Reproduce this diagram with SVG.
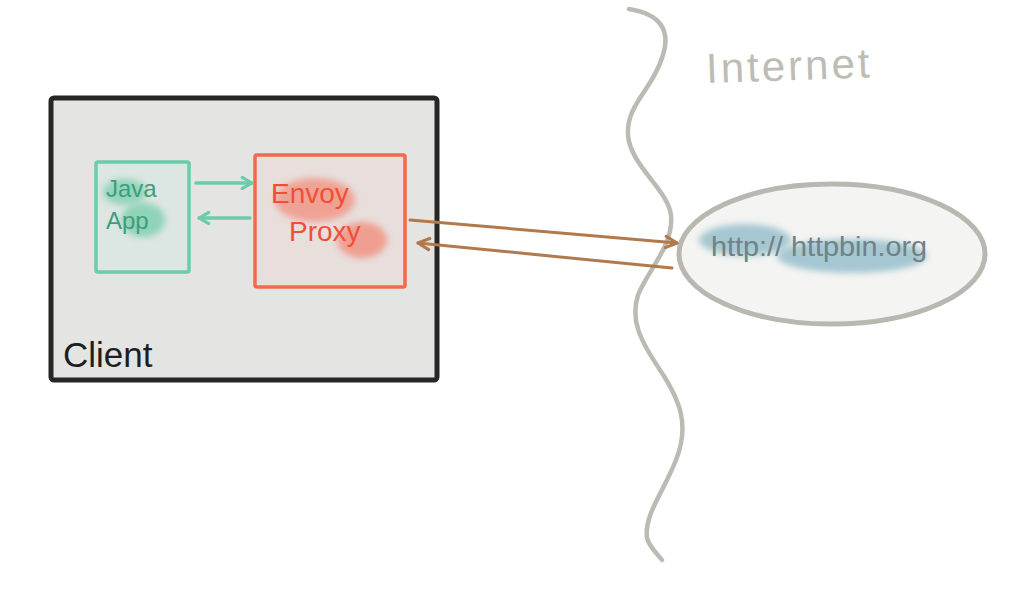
<svg xmlns="http://www.w3.org/2000/svg" width="1024" height="592" viewBox="0 0 1024 592">
<defs>
<style>
.lbl{font-family:"Liberation Sans","DejaVu Sans",sans-serif}
.brown{stroke:#b07a4c;stroke-width:3;fill:none;stroke-linecap:round}
.green{stroke:#6ccba9;stroke-width:3.5;fill:none;stroke-linecap:round}
</style>
<marker id="ag" viewBox="0 0 10 10" refX="9" refY="5" markerWidth="14" markerHeight="14" orient="auto" markerUnits="userSpaceOnUse">
<path d="M2 1 L9 5 L2 9" fill="none" stroke="#6ccba9" stroke-width="2.2" stroke-linecap="round" stroke-linejoin="round"/>
</marker>
<marker id="ab" viewBox="0 0 10 10" refX="9" refY="5" markerWidth="16" markerHeight="16" orient="auto" markerUnits="userSpaceOnUse">
<path d="M2 1.5 L9 5 L2 8.5" fill="none" stroke="#b07a4c" stroke-width="2" stroke-linecap="round" stroke-linejoin="round"/>
</marker>
<filter id="blur" x="-30%" y="-30%" width="160%" height="160%"><feGaussianBlur stdDeviation="3"/></filter>
</defs>
<rect width="1024" height="592" fill="#ffffff"/>

<g id="internet-boundary">
<path d="M629 9 C660 14 672 30 662 58 C652 90 626 105 628 135 C630 165 668 190 671 215 C674 245 648 270 638 295 C630 320 640 340 660 370 C680 400 690 425 676 460 C662 495 644 515 647 538 C650 548 656 552 662 560" fill="none" stroke="#bbbbb3" stroke-width="4.5" stroke-linecap="round"/>
<text class="lbl" x="706" y="80" font-size="42" fill="#bdbdb5" letter-spacing="3" transform="rotate(-2 795 65)">Internet</text>
</g>

<g id="client">
<rect x="51" y="98" width="386" height="282" rx="3" fill="#e4e4e3" stroke="#262626" stroke-width="5"/>
<text class="lbl" x="63" y="367" font-size="35" fill="#1e1e1e">Client</text>
</g>

<g id="java-app">
<rect x="96" y="162" width="93" height="110" rx="2" fill="#dce6e2" stroke="#6ccba9" stroke-width="3.5"/>
<ellipse cx="125" cy="192" rx="22" ry="13" fill="#7dcfae" opacity="0.75" filter="url(#blur)"/>
<ellipse cx="143" cy="220" rx="22" ry="17" fill="#7dcfae" opacity="0.8" filter="url(#blur)"/>
<text class="lbl" x="106" y="197" font-size="24" fill="#3d9e7b">Java</text>
<text class="lbl" x="106" y="229" font-size="24" fill="#3d9e7b">App</text>
</g>

<g id="envoy-proxy">
<rect x="255" y="155" width="150" height="132" rx="2" fill="#e8dedb" stroke="#f2694e" stroke-width="3.5"/>
<ellipse cx="315" cy="200" rx="40" ry="22" fill="#f28a77" opacity="0.7" filter="url(#blur)"/>
<ellipse cx="362" cy="240" rx="25" ry="18" fill="#f28a77" opacity="0.75" filter="url(#blur)"/>
<text class="lbl" x="271" y="203" font-size="28" fill="#f24e37">Envoy</text>
<text class="lbl" x="289" y="241" font-size="28" fill="#f24e37">Proxy</text>
</g>

<g id="httpbin">
<ellipse cx="832" cy="254" rx="153" ry="70" fill="#f4f4f2" stroke="#b8b8b0" stroke-width="5"/>
<ellipse cx="745" cy="240" rx="46" ry="16" fill="#8bb8c6" opacity="0.75" filter="url(#blur)"/>
<ellipse cx="852" cy="256" rx="75" ry="17" fill="#8bb8c6" opacity="0.75" filter="url(#blur)"/>
<text class="lbl" x="711" y="256" font-size="28" fill="#6f8286" textLength="216" lengthAdjust="spacingAndGlyphs">http:// httpbin.org</text>
</g>

<g id="connectors">
<line class="green" x1="196" y1="183" x2="252" y2="183" marker-end="url(#ag)"/>
<line class="green" x1="250" y1="218" x2="199" y2="218" marker-end="url(#ag)"/>
<line class="brown" x1="410" y1="220" x2="677" y2="243" marker-end="url(#ab)"/>
<line class="brown" x1="672" y1="268" x2="418" y2="243" marker-end="url(#ab)"/>
</g>
</svg>
